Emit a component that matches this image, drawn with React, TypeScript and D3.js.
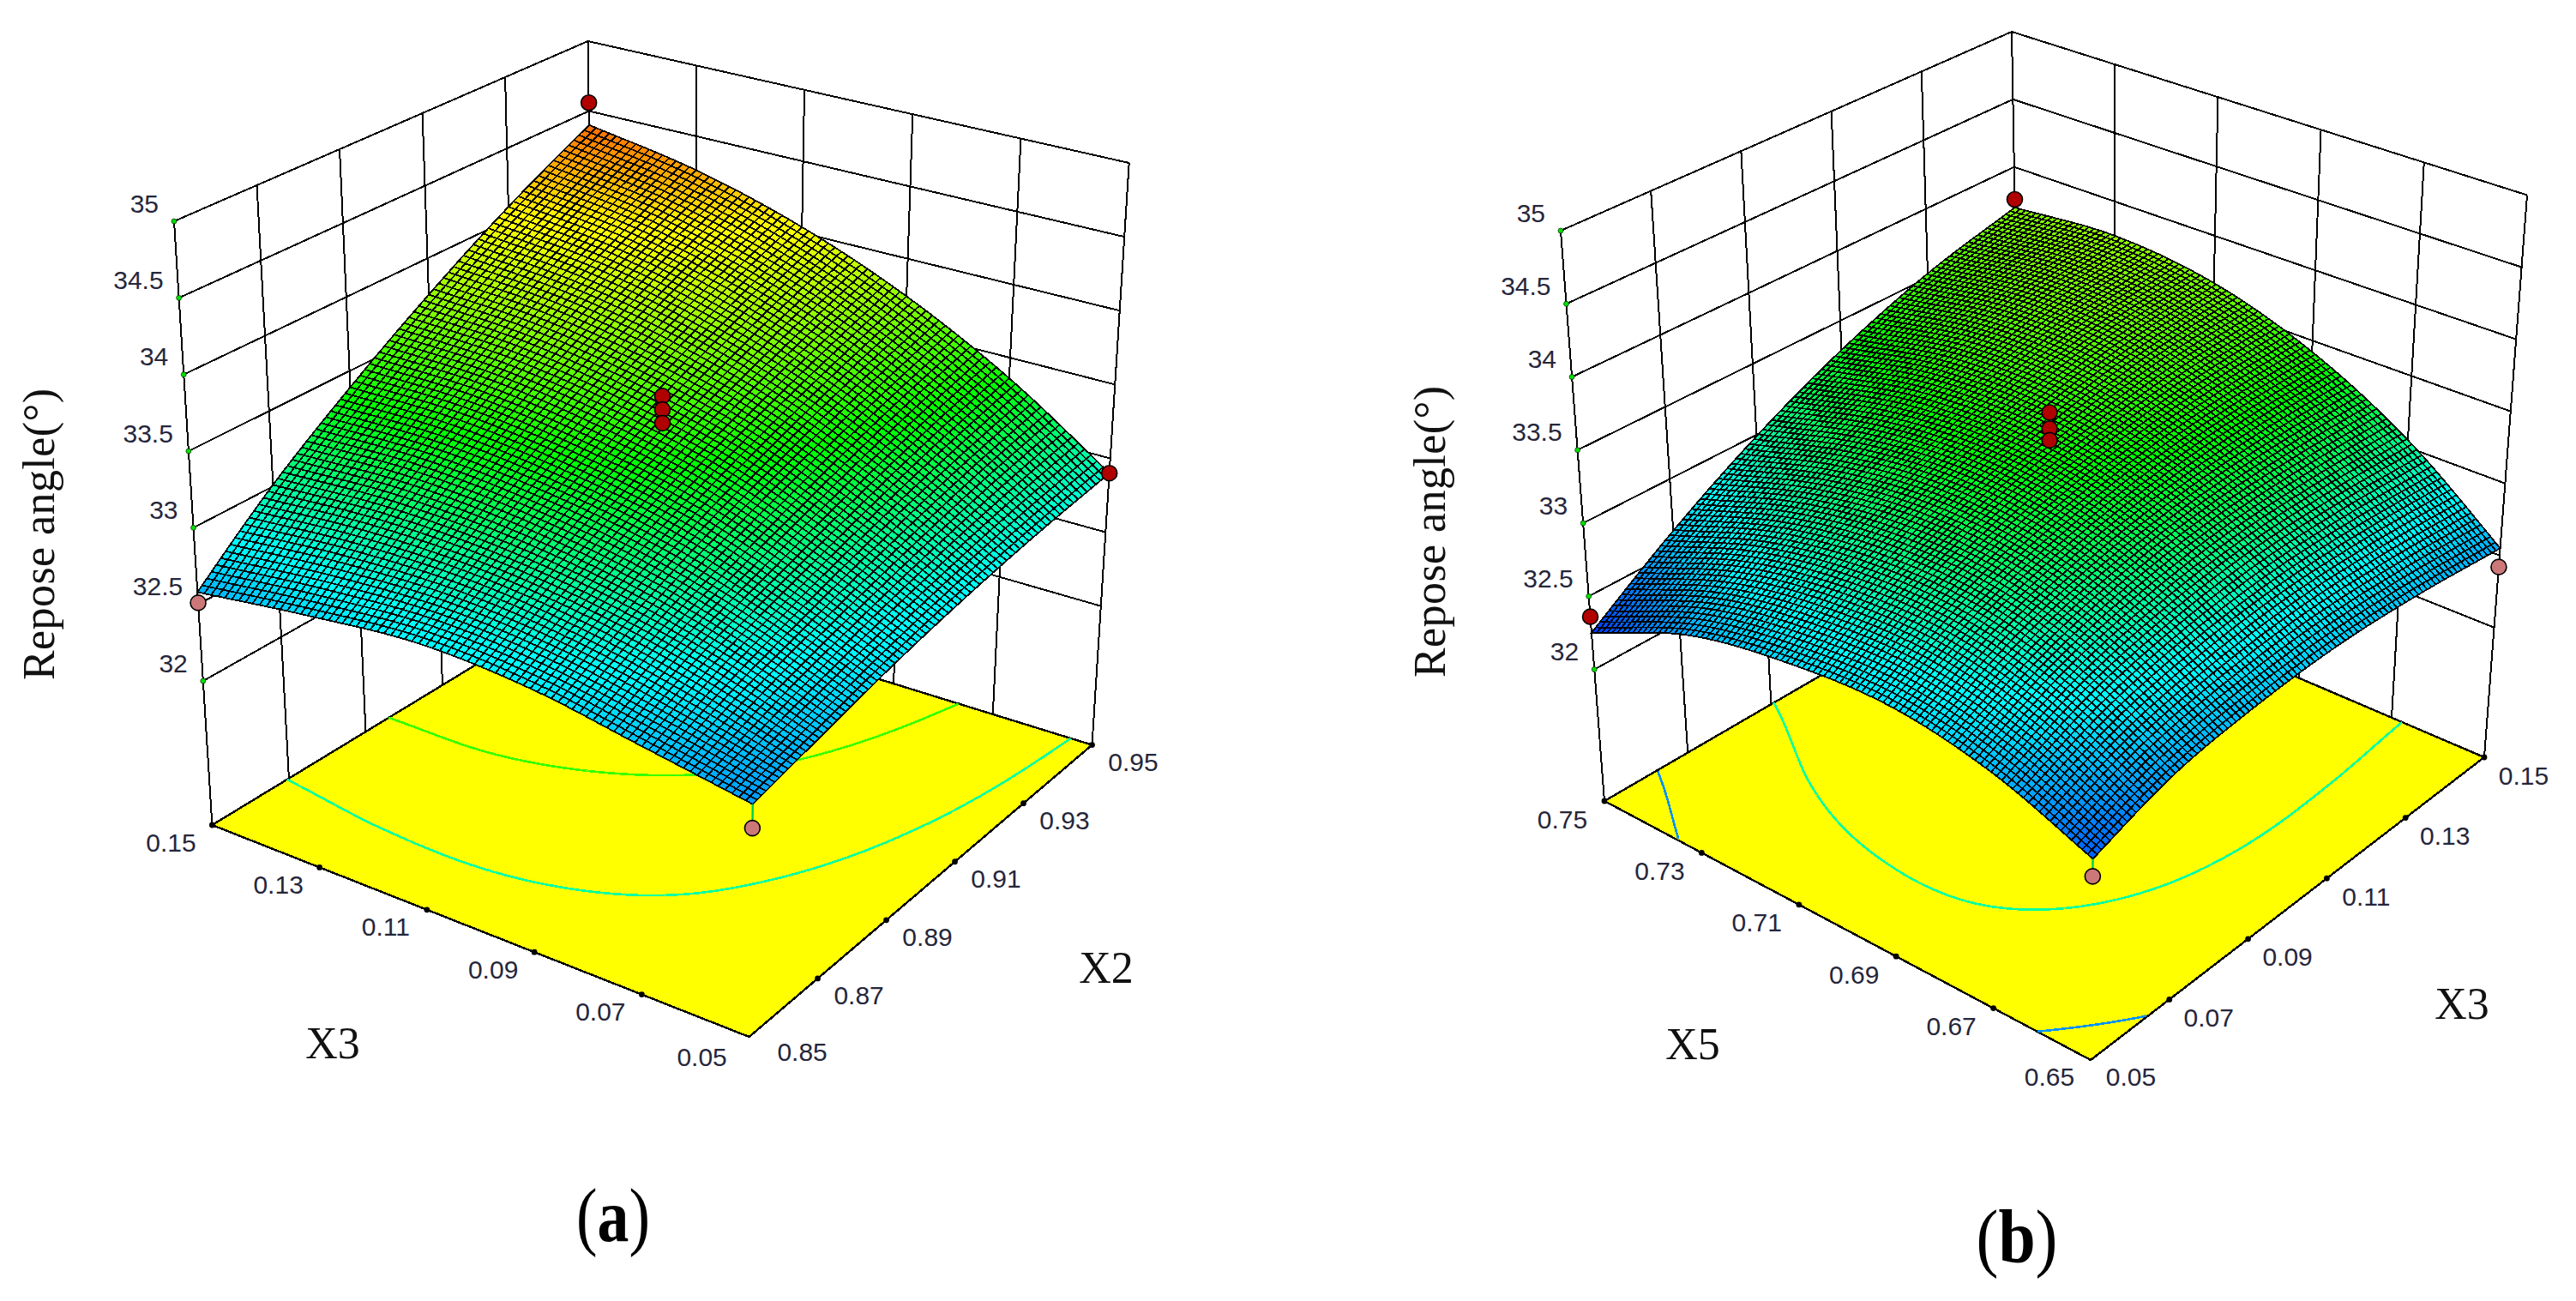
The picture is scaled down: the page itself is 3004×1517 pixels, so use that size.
import React from "react";
import * as d3 from "d3";

// ---------- data ----------
const zTicks = [32, 32.5, 33, 33.5, 34, 34.5, 35];
const zTickLabels = ["32", "32.5", "33", "33.5", "34", "34.5", "35"];

const x3TicksA = ["0.05", "0.07", "0.09", "0.11", "0.13", "0.15"];
const x2TicksA = ["0.85", "0.87", "0.89", "0.91", "0.93", "0.95"];
const x5TicksB = ["0.65", "0.67", "0.69", "0.71", "0.73", "0.75"];
const x3TicksB = ["0.05", "0.07", "0.09", "0.11", "0.13", "0.15"];

// response at each tick pair: row = left-axis tick, column = right-axis tick
const surfaceA = [
  [32.52, 32.62, 32.72, 32.8, 32.86, 32.9],
  [32.63, 32.83, 32.98, 33.12, 33.25, 33.36],
  [32.74, 32.98, 33.2, 33.4, 33.58, 33.74],
  [32.77, 33.06, 33.33, 33.59, 33.83, 34.04],
  [32.69, 33.07, 33.4, 33.71, 34.0, 34.26],
  [32.58, 33.01, 33.39, 33.75, 34.09, 34.4],
];
const surfaceB = [
  [32.36, 32.54, 32.62, 32.65, 32.62, 32.55],
  [32.6, 32.84, 32.99, 33.07, 33.08, 33.05],
  [32.72, 33.01, 33.2, 33.33, 33.4, 33.42],
  [32.69, 33.02, 33.27, 33.45, 33.59, 33.66],
  [32.56, 32.9, 33.19, 33.44, 33.63, 33.75],
  [32.25, 32.64, 32.99, 33.29, 33.53, 33.7],
];

// design points: [left-axis position, right-axis position, response]
const highPointsA = [[1, 1, 34.56], [0, 1, 32.9], [0.5, 0.5, 33.75], [0.5, 0.5, 33.66], [0.5, 0.5, 33.57]];
const lowPointsA = [[1, 0, 32.51], [0, 0, 32.37]];
const highPointsB = [[1, 1, 33.76], [1, 0, 32.36], [0.5, 0.5, 33.71], [0.5, 0.5, 33.6], [0.5, 0.5, 33.52]];
const lowPointsB = [[0, 1, 32.42], [0, 0, 32.25]];

const contourLevels = [32.5, 33, 33.5, 34];
const colourStops = [32.1, 32.8, 33.35, 34.05, 34.65];
const colourRange = ["#0000ff", "#00ffff", "#00ff00", "#ffff00", "#ff0000"];

// ---------- layout: box corners as [floor x, floor y, top x, top y] ----------
const layoutA = {
  floor: 31.06,
  cells: 80,
  corners: {
    front: [873.6, 1209, 885, 477],
    left: [247.4, 962, 203, 258],
    back: [695, 690, 685.6, 48],
    right: [1273.5, 868.6, 1316.7, 190],
  },
  leftOffset: [-48, 20], rightOffset: [48, 20],
  frontLeftOffset: [-55, 23], frontRightOffset: [62, 17],
  titleX: 63, titleY: 623,
  leftTitle: [388, 1216], rightTitle: [1290, 1128],
  panel: [715, 1447, 86],
};
const layoutB = {
  floor: 31.1,
  cells: 94,
  corners: {
    front: [2438, 1236, 2446, 510],
    left: [1871, 934, 1820, 269],
    back: [2357, 652, 2346, 37],
    right: [2897, 883, 2947, 227.5],
  },
  leftOffset: [-49, 21], rightOffset: [46, 21],
  frontLeftOffset: [-48, 19], frontRightOffset: [47, 19],
  titleX: 1685, titleY: 620,
  leftTitle: [1974, 1217], rightTitle: [2871, 1170],
  panel: [2352, 1472, 95],
};

// ---------- helpers ----------
function boxProjection(layout: any) {
  const { front, left, back, right } = layout.corners;
  const height = d3.scaleLinear().domain([layout.floor, 35]).range([0, 1]);
  return (a: number, b: number, z: number): [number, number] => {
    const w0 = (1 - a) * (1 - b), w1 = a * (1 - b), w2 = a * b, w3 = (1 - a) * b;
    const mix = (k: number) => w0 * front[k] + w1 * left[k] + w2 * back[k] + w3 * right[k];
    const h = height(z);
    return [mix(0) + h * (mix(2) - mix(0)), mix(1) + h * (mix(3) - mix(1))];
  };
}

// smooth reading of the value table between ticks
function tableReader(t: number[][]) {
  const n = t.length - 1;
  const at = (i: number, j: number) => {
    const ci = Math.max(0, Math.min(n, i)), cj = Math.max(0, Math.min(n, j));
    const ei = i - ci, ej = j - cj;
    const base = t[ci][cj];
    const si = ei ? base - t[ci - Math.sign(ei)][cj] : 0;
    const sj = ej ? base - t[ci][cj - Math.sign(ej)] : 0;
    return base + si + sj;
  };
  const cr = (p0: number, p1: number, p2: number, p3: number, u: number) =>
    0.5 * (2 * p1 + (p2 - p0) * u + (2 * p0 - 5 * p1 + 4 * p2 - p3) * u * u + (3 * p1 - p0 - 3 * p2 + p3) * u * u * u);
  return (a: number, b: number) => {
    const A = a * n, B = b * n;
    const i = Math.min(n - 1, Math.floor(A)), j = Math.min(n - 1, Math.floor(B));
    const u = A - i, v = B - j;
    const col = [-1, 0, 1, 2].map((di) =>
      cr(at(i + di, j - 1), at(i + di, j), at(i + di, j + 1), at(i + di, j + 2), v)
    );
    return cr(col[0], col[1], col[2], col[3], u);
  };
}

const colour = d3.scaleLinear<string>().domain(colourStops).range(colourRange).clamp(true);
const INK = "#26263a";

function Panel({
  layout, surface, leftTicks, rightTicks, leftName, rightName, highs, lows, tag,
}: any) {
  const P = boxProjection(layout);
  const F = layout.floor;
  const read = tableReader(surface);
  const n = layout.cells;
  const t = d3.scaleLinear().domain([0, n]).range([0, 1]);
  const tick = d3.scaleLinear().domain([0, leftTicks.length - 1]).range([0, 1]);
  const line = d3.line();
  const wall = (pts: [number, number, number][]) => line(pts.map((q) => P(q[0], q[1], q[2])))!;

  const cells: { d: string; c: string }[] = [];
  for (let i = n - 1; i >= 0; i--) {
    for (let j = n - 1; j >= 0; j--) {
      const corner = [[i, j], [i + 1, j], [i + 1, j + 1], [i, j + 1]].map(([p, q]) => {
        const a = t(p), b = t(q);
        return P(a, b, read(a, b));
      }) as [number, number][];
      const m = read(t(i + 0.5), t(j + 0.5));
      cells.push({ d: line(corner)! + "Z", c: colour(m) });
    }
  }

  const gridN = 161;
  const values: number[] = [];
  for (let j = 0; j < gridN; j++) for (let i = 0; i < gridN; i++) values.push(read(i / (gridN - 1), j / (gridN - 1)));
  const rings = d3.contours().size([gridN, gridN]).thresholds(contourLevels)(values);
  const contourPaths = rings.map((g) => {
    let d = "";
    for (const poly of g.coordinates) for (const ring of poly) {
      for (let k = 1; k < ring.length; k++) {
        const p0 = ring[k - 1], p1 = ring[k];
        const edge = (q: number[]) => [q[0] < 1, q[0] > gridN - 1, q[1] < 1, q[1] > gridN - 1];
        const e0 = edge(p0), e1 = edge(p1);
        if (e0.some((v, x) => v && e1[x])) continue;
        const map = (q: number[]) => {
          const a = Math.max(0, Math.min(1, (q[0] - 0.5) / (gridN - 1)));
          const b = Math.max(0, Math.min(1, (q[1] - 0.5) / (gridN - 1)));
          return P(a, b, F);
        };
        const s = map(p0), e = map(p1);
        d += `M${s[0]},${s[1]}L${e[0]},${e[1]}`;
      }
    }
    return { d, c: colour(g.value) };
  });

  const floorPath = wall([[0, 0, F], [1, 0, F], [1, 1, F], [0, 1, F]]) + "Z";
  const dotStyle = { strokeWidth: 1.6, stroke: "#000" };
  const front = P(0, 0, read(0, 0));
  const lowFront = lows.find((q: number[]) => q[0] === 0 && q[1] === 0);
  const frontDot = P(0, 0, lowFront[2]);

  return (
    <g>
      {/* walls */}
      <g stroke="#000" strokeWidth={2} fill="none" shapeRendering="crispEdges">
        {zTicks.map((z) => (
          <path key={z} d={wall([[1, 0, z], [1, 1, z], [0, 1, z]])} />
        ))}
        {leftTicks.map((_: string, k: number) => (
          <path key={"l" + k} d={wall([[tick(k), 1, F], [tick(k), 1, 35]])} />
        ))}
        {rightTicks.map((_: string, k: number) => (
          <path key={"r" + k} d={wall([[1, tick(k), F], [1, tick(k), 35]])} />
        ))}
      </g>
      {/* floor */}
      <path d={floorPath} fill="#ffff00" stroke="#000" strokeWidth={2.4} shapeRendering="crispEdges" />
      {contourPaths.map((c, i) => (
        <path key={i} d={c.d} fill="none" stroke={c.c} strokeWidth={2.6} shapeRendering="crispEdges" />
      ))}
      {leftTicks.map((lab: string, k: number) => {
        const [x, y] = P(tick(k), 0, F);
        const o = k === 0 ? layout.frontLeftOffset : layout.leftOffset;
        return (
          <g key={lab}>
            {k > 0 && <circle cx={x} cy={y} r={3.4} fill="#000" />}
            <text x={x + o[0]} y={y + o[1]} textAnchor="middle" dominantBaseline="central" fontFamily="'Liberation Sans'" fontSize={30} fill={INK}>{lab}</text>
          </g>
        );
      })}
      {rightTicks.map((lab: string, k: number) => {
        const [x, y] = P(0, tick(k), F);
        const o = k === 0 ? layout.frontRightOffset : layout.rightOffset;
        return (
          <g key={lab}>
            {k > 0 && <circle cx={x} cy={y} r={3.4} fill="#000" />}
            <text x={x + o[0]} y={y + o[1]} textAnchor="middle" dominantBaseline="central" fontFamily="'Liberation Sans'" fontSize={30} fill={INK}>{lab}</text>
          </g>
        );
      })}
      {/* surface */}
      <g stroke="#000" strokeWidth={1.8} shapeRendering="crispEdges">
        {cells.map((c, i) => (
          <path key={i} d={c.d} fill={c.c} />
        ))}
      </g>
      {/* z ticks */}
      {zTicks.map((z, k) => {
        const [x, y] = P(1, 0, z);
        return (
          <g key={z}>
            <circle cx={x} cy={y} r={3} fill="#00e000" stroke="#000" strokeWidth={0.6} />
            <text x={x - 18} y={y - 21} textAnchor="end" dominantBaseline="central" fontFamily="'Liberation Sans'" fontSize={30} fill={INK}>{zTickLabels[k]}</text>
          </g>
        );
      })}
      {/* design points */}
      <line x1={front[0]} y1={front[1]} x2={frontDot[0]} y2={frontDot[1]} stroke="#00d050" strokeWidth={2.4} />
      {lows.map((q: number[], i: number) => {
        const [x, y] = P(q[0], q[1], q[2]);
        return <circle key={i} cx={x} cy={y} r={9} fill="#cd7878" {...dotStyle} />;
      })}
      {highs.map((q: number[], i: number) => {
        const [x, y] = P(q[0], q[1], q[2]);
        return <circle key={i} cx={x} cy={y} r={9} fill="#b00000" {...dotStyle} />;
      })}
      {/* titles */}
      <text transform={`translate(${layout.titleX},${layout.titleY}) rotate(-90)`} textAnchor="middle" fontFamily="'Liberation Serif'" fontSize={52} fill="#111" textLength={340} lengthAdjust="spacing">Repose angle(°)</text>
      <text x={layout.leftTitle[0]} y={layout.leftTitle[1]} textAnchor="middle" dominantBaseline="central" fontFamily="'Liberation Serif'" fontSize={52} fill="#111">{leftName}</text>
      <text x={layout.rightTitle[0]} y={layout.rightTitle[1]} textAnchor="middle" dominantBaseline="central" fontFamily="'Liberation Serif'" fontSize={52} fill="#111">{rightName}</text>
      <text x={layout.panel[0]} y={layout.panel[1]} textAnchor="middle" fontFamily="'Liberation Serif'" fontSize={88} fill="#000" textLength={layout.panel[2]} lengthAdjust="spacingAndGlyphs">
        (<tspan fontWeight="bold">{tag}</tspan>)
      </text>
    </g>
  );
}

export default function App() {
  return (
    <svg width={3004} height={1517} style={{ position: "absolute", left: 0, top: 0, background: "#fff" }}>
      <Panel layout={layoutA} surface={surfaceA} leftTicks={x3TicksA} rightTicks={x2TicksA} leftName="X3" rightName="X2" highs={highPointsA} lows={lowPointsA} tag="a" />
      <Panel layout={layoutB} surface={surfaceB} leftTicks={x5TicksB} rightTicks={x3TicksB} leftName="X5" rightName="X3" highs={highPointsB} lows={lowPointsB} tag="b" />
    </svg>
  );
}
